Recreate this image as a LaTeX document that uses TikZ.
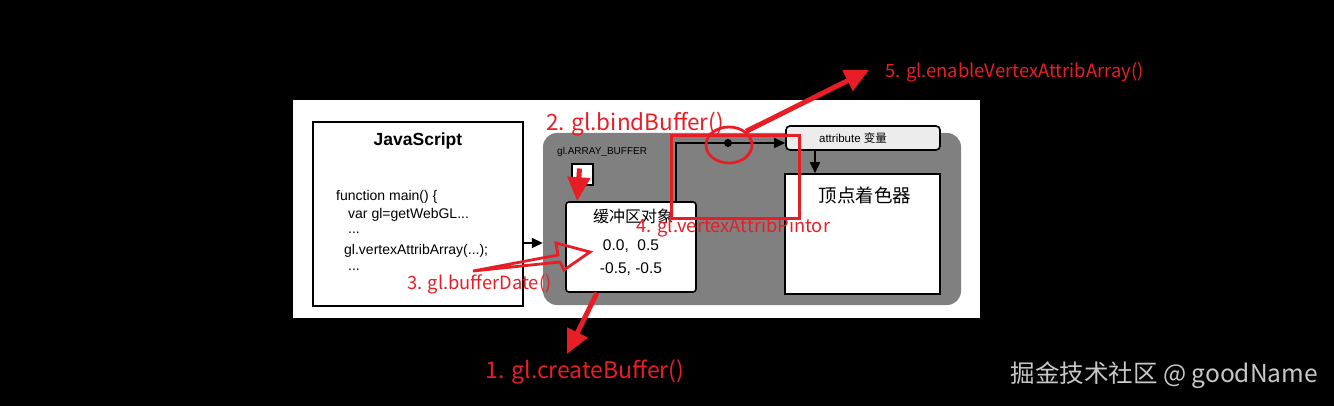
\documentclass[tikz,border=0pt]{standalone}
\usepackage{fontspec}
\setmainfont{Liberation Sans}
\newfontfamily\cjk{Noto Sans CJK SC}
\usetikzlibrary{arrows.meta,shapes.geometric}
\definecolor{markred}{RGB}{232,30,38}
\definecolor{panelgray}{RGB}{128,128,128}
\definecolor{attrgray}{RGB}{236,236,236}
\definecolor{wmgray}{RGB}{200,200,200}
\newcommand{\fsz}[1]{\fontsize{#1}{#1}\selectfont}
\tikzset{
  box/.style={draw=black,fill=white,line width=1.6pt,inner sep=0pt},
  blk/.style={line width=1.6pt,-{Triangle[length=11pt,width=10pt]}},
  redtext/.style={text=markred,inner sep=0pt,font=\cjk\fsz{#1}},
  redarrow/.style={draw=markred,line width=5pt,-{Triangle[length=24pt,width=22pt]}},
  redline/.style={draw=markred,line width=2.8pt}
}
\begin{document}
\begin{tikzpicture}[x=1pt,y=-1pt]
\fill[black] (0,0) rectangle (1334,406);
\useasboundingbox (0,0) rectangle (1334,406);
% scanned page
\fill[white] (293,100) rectangle (980,318);

% javascript side
\node[box,minimum width=210pt,minimum height=184pt] (js) at (418,214) {};
\node[font=\bfseries\fsz{17.5}] (jstitle) at (418,141) {JavaScript};
\foreach \n/\xx/\yy/\t in {1/336/197/{function main() \{},2/348/215/{var gl=getWebGL...},
    3/348/233/{...},4/344/251/{gl.vertexAttribArray(...);},5/348/270/{...}}
  \node[anchor=west,font=\fsz{14},inner sep=0pt] (code\n) at (\xx,\yy) {\t};

% webgl side
\node[fill=panelgray,rounded corners=14pt,minimum width=418pt,minimum height=172pt,inner sep=0pt] (panel) at (752,219) {};
\node[anchor=west,font=\fsz{10},inner sep=0pt] (target) at (557,152) {gl.ARRAY\_BUFFER};
\node[box,line width=1.2pt,minimum size=21pt] (slot) at (582.5,174.5) {};
\node[box,rounded corners=3pt,minimum width=130pt,minimum height=90pt] (bufobj) at (631,247) {};
\node[font=\cjk\fsz{16}] (bufname) at (633,216) {缓冲区对象};
\node[font=\fsz{15.5}] (row1) at (631,246) {0.0,\ \ 0.5};
\node[font=\fsz{15.5}] (row2) at (631,269) {-0.5, -0.5};
\node[box,fill=attrgray,rounded corners=4pt,minimum width=154pt,minimum height=24pt] (attr) at (863,138) {};
\node[font=\fsz{11.5}] (attrname) at (853,138) {attribute {\cjk 变量}};
\node[box,minimum width=155pt,minimum height=120pt] (vs) at (862.5,234) {};
\node[font=\cjk\fsz{18.5}] (vsname) at (865,195) {顶点着色器};

% black connectors
\node[circle,fill=black,inner sep=0pt,minimum size=8pt] (dot) at (728,143) {};
\draw[blk] ([xshift=45pt]bufobj.north) |- ([yshift=-5pt]attr.west);
\coordinate (drop) at (815,0);
\draw[blk] (attr.south -| drop) -- (vs.north -| drop);
\draw[blk] ([yshift=4pt]js.east |- bufobj.west) -- ([yshift=4pt]panel.west |- bufobj.west);

% red notes
\node[redtext=22.5,anchor=west] (lab2) at (546,124) {2. gl.bindBuffer()};
\draw[redarrow] ([shift={(-3pt,6pt)}]slot.center) -- ([xshift=12pt]bufobj.north west);
\node[draw=markred,line width=2.8pt,ellipse,minimum width=46pt,minimum height=36pt,inner sep=0pt] (ring) at (729,145) {};
\node[redtext=18.4,anchor=west] (lab5) at (885,72) {5. gl.enableVertexAttribArray()};
\draw[redarrow] (ring.north east) -- ([xshift=-16pt,yshift=2pt]lab5.west);
\node[draw=markred,line width=3pt,minimum width=128pt,minimum height=83pt,inner sep=0pt] (pinbox) at (735,177.5) {};
\node[redtext=18.3] (lab4) at (733.5,228) {4. gl.vertexAttribPintor};
\node[redtext=18.3,anchor=west] (lab3) at (407,284) {3. gl.bufferDate()};
\draw[redline,line join=miter] (473,271) -- (558,255) -- (556,243) -- (590,252) -- (564,270) -- (560,262) -- cycle;
\node[redtext=23] (lab1) at (585,372) {1. gl.createBuffer()};
\coordinate (tip1) at (567,354);
\draw[redarrow] ([xshift=-34pt]bufobj.south) -- (tip1);

% watermark
\node[font=\cjk\fsz{24.5},text=wmgray,anchor=east,inner sep=0pt] (wm) at (1318,375) {掘金技术社区 @ goodName};
\end{tikzpicture}
\end{document}
